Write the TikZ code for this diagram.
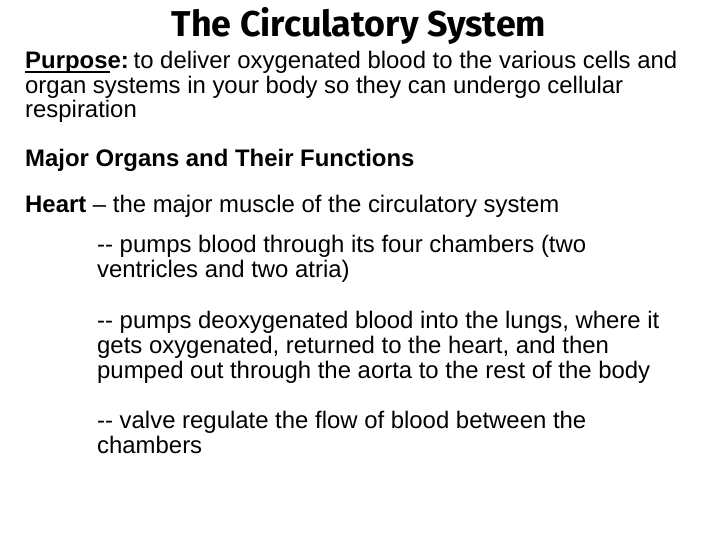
\documentclass[tikz,border=0pt]{standalone}
\usepackage{fontspec}
\setmainfont{Liberation Sans}
\newfontfamily\titlefont{Fira Sans}
\begin{document}
\begin{tikzpicture}[x=1bp,y=-1bp,
  ln/.style={anchor=base west,inner sep=0pt,font=\fontsize{24}{28}\selectfont}]
\useasboundingbox (0,0) rectangle (720,540);
\node[inner sep=0pt,font=\titlefont\bfseries\fontsize{36}{40}\selectfont] (title) at (359,26) {The Circulatory System};
\node[ln] (p1) at (25,69) {\textbf{Purpose:}\hspace{-4bp} to deliver oxygenated blood to the various cells and};
\draw[line width=1.2bp] (25,72) -- (110,72);
\node[ln] (p2) at (25,94) {organ systems in your body so they can undergo cellular};
\node[ln] (p3) at (25,118) {respiration};
\node[ln] (m) at (25,167) {\textbf{Major Organs and Their Functions}};
\node[ln] (h) at (25,213) {\textbf{Heart} -- the major muscle of the circulatory system};
\node[ln] (a1) at (97,253) {-{}- pumps blood through its four chambers (two};
\node[ln] (a2) at (97,278) {ventricles and two atria)};
\node[ln] (b1) at (97,328) {-{}- pumps deoxygenated blood into the lungs, where it};
\node[ln] (b2) at (97,353) {gets oxygenated, returned to the heart, and then};
\node[ln] (b3) at (97,378) {pumped out through the aorta to the rest of the body};
\node[ln] (c1) at (97,428) {-{}- valve regulate the flow of blood between the};
\node[ln] (c2) at (97,453) {chambers};
\end{tikzpicture}
\end{document}
